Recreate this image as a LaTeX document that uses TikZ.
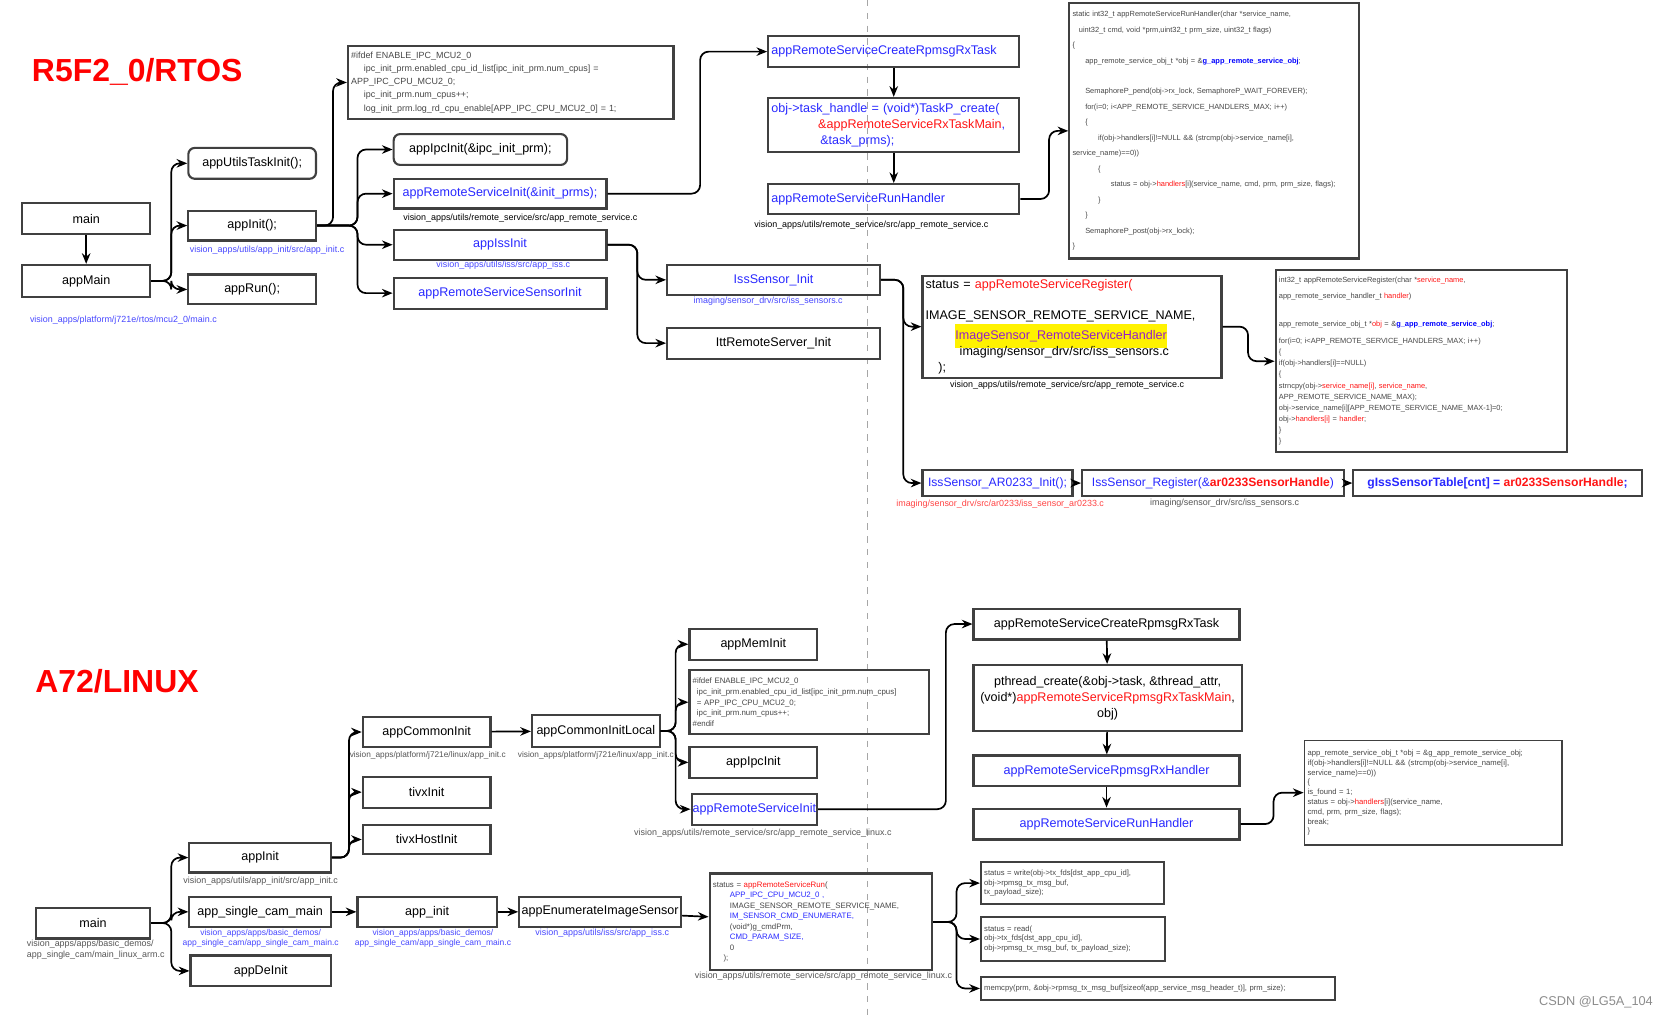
\documentclass[tikz,border=0pt]{standalone}
\usepackage{fontspec}
\setmainfont{Liberation Sans}
\usetikzlibrary{arrows.meta}
\definecolor{tb}{RGB}{40,40,255}
\definecolor{lb}{RGB}{70,70,255}
\definecolor{tr}{RGB}{255,20,20}
\definecolor{cg}{RGB}{70,70,70}
\definecolor{lg}{RGB}{85,85,85}
\definecolor{pp}{RGB}{150,30,200}
\newcommand\fs[2]{\fontsize{#1pt}{#2pt}\selectfont}
\newcommand\R[1]{\textcolor{tr}{#1}}
\newcommand\B[1]{\textcolor{tb}{#1}}
\newcommand\mybox[7][]{%
  \pgfmathsetmacro\bw{(#5-#3)*0.5}%
  \pgfmathsetmacro\bh{(#6-#4)*0.5}%
  \pgfmathsetmacro\tw{(#5-#3-6)*0.5}%
  \pgfmathsetmacro\cx{(#3+#5)/2}%
  \pgfmathsetmacro\cy{(#4+#6)/2}%
  \node[box,minimum width=\bw pt,minimum height=\bh pt,#1] (#2) at (\cx,\cy) {#7};}
\tikzset{
  box/.style={draw=black!75,line width=1pt,inner sep=0pt,font=\fs{5.9}{7.5}},
  lft/.style={text width=\tw pt,align=left},
  lbl/.style={inner sep=0pt,font=\fs{4.2}{5.2},align=center},
  arr/.style={-{Stealth[length=5pt,width=4pt]},line width=0.8pt,rounded corners=4pt},
  title/.style={text=red,font=\bfseries\fs{15}{15}}
}
\begin{document}
\begin{tikzpicture}[x=0.5pt,y=-0.5pt]
\useasboundingbox (0,0) rectangle (1563,955);
\draw[dashed,black!35,line width=0.5pt] (815,0) -- (815,955);
\node[title] (t1) at (129,68) {R5F2\_0/RTOS};
\node[title] (t2) at (110,640) {A72/LINUX};
% ---------------- top
\mybox{main}{21}{191}{141}{220}{main}
\mybox{appMain}{21}{249}{141}{279}{appMain}
\node[lbl,text=lb] (l1) at (116,301) {vision\_apps/platform/j721e/rtos/mcu2\_0/main.c};
\mybox[rounded corners=3pt]{uti}{177}{139}{297}{168}{appUtilsTaskInit();}
\mybox{appInit}{177}{198}{297}{226}{appInit();}
\node[lbl,text=lb] (l2) at (251,235) {vision\_apps/utils/app\_init/src/app\_init.c};
\mybox{appRun}{177}{258}{297}{286}{appRun();}
\mybox[lft,font=\fs{4.2}{6.2},text=cg]{ifd}{327}{43}{633}{112}{\#ifdef ENABLE\_IPC\_MCU2\_0\\
\hspace*{6pt}ipc\_init\_prm.enabled\_cpu\_id\_list[ipc\_init\_prm.num\_cpus] =\\
APP\_IPC\_CPU\_MCU2\_0;\\
\hspace*{6pt}ipc\_init\_prm.num\_cpus++;\\
\hspace*{6pt}log\_init\_prm.log\_rd\_cpu\_enable[APP\_IPC\_CPU\_MCU2\_0] = 1;}
\mybox[rounded corners=3pt]{ipc}{370}{126}{533}{155}{appIpcInit(\&ipc\_init\_prm);}
\mybox[text=tb]{rsi}{370}{168}{570}{196}{appRemoteServiceInit(\&init\_prms);}
\node[lbl] (l3) at (489,205) {vision\_apps/utils/remote\_service/src/app\_remote\_service.c};
\mybox[text=tb]{iss}{370}{216}{570}{244}{appIssInit}
\node[lbl,text=lb] (l4) at (473,249) {vision\_apps/utils/iss/src/app\_iss.c};
\mybox[text=tb]{rssi}{370}{261}{570}{290}{appRemoteServiceSensorInit}
\mybox[text=tb]{issi}{627}{249}{827}{277}{IssSensor\_Init}
\node[lbl,text=lb] (l5) at (722,283) {imaging/sensor\_drv/src/iss\_sensors.c};
\mybox{itt}{627}{308}{827}{337}{IttRemoteServer\_Init}
\mybox[text=tb,lft]{crt}{722}{34}{958}{63}{appRemoteServiceCreateRpmsgRxTask}
\mybox[text=tb,lft]{obj}{722}{92}{958}{143}{\mbox{obj->task\_handle = (void*)TaskP\_create(}\\\mbox{\hspace*{22pt}\R{\&appRemoteServiceRxTaskMain},}\\\mbox{\hspace*{23pt}\&task\_prms);}}
\mybox[text=tb,lft]{rh}{722}{173}{958}{201}{appRemoteServiceRunHandler}
\node[lbl] (l6) at (819,212) {vision\_apps/utils/remote\_service/src/app\_remote\_service.c};
\mybox[lft,text=cg,font=\fs{3.5}{7.3}]{big}{1005}{3}{1277}{243}{static int32\_t appRemoteServiceRunHandler(char *service\_name,\\
\hspace*{3pt}uint32\_t cmd, void *prm,uint32\_t prm\_size, uint32\_t flags)\\
\{\\
\hspace*{6pt}app\_remote\_service\_obj\_t *obj = \&\textcolor{blue}{\bfseries g\_app\_remote\_service\_obj};\\[7pt]
\hspace*{6pt}SemaphoreP\_pend(obj->rx\_lock, SemaphoreP\_WAIT\_FOREVER);\\
\hspace*{6pt}for(i=0; i<APP\_REMOTE\_SERVICE\_HANDLERS\_MAX; i++)\\
\hspace*{6pt}\{\\
\hspace*{12pt}if(obj->handlers[i]!=NULL \&\& (strcmp(obj->service\_name[i],\\
service\_name)==0))\\
\hspace*{12pt}\{\\
\mbox{\hspace*{18pt}status = obj->\R{handlers}[i](service\_name, cmd, prm, prm\_size, flags);}\\
\hspace*{12pt}\}\\
\hspace*{6pt}\}\\
\hspace*{6pt}SemaphoreP\_post(obj->rx\_lock);\\
\}}
\mybox[lft]{reg}{867}{259}{1148}{355}{status = \R{appRemoteServiceRegister(}\\[7pt]
IMAGE\_SENSOR\_REMOTE\_SERVICE\_NAME,\\
\hspace*{14pt}\colorbox{yellow}{\hspace*{-3pt}\textcolor{pp}{ImageSensor\_RemoteServiceHandler}\hspace*{-3pt}}\\[-2pt]
\hspace*{16pt}imaging/sensor\_drv/src/iss\_sensors.c\\
\hspace*{6pt});}
\node[lbl] (l7) at (1003,362) {vision\_apps/utils/remote\_service/src/app\_remote\_service.c};
\mybox[lft,text=cg,font=\fs{3.5}{5.2}]{regc}{1199}{254}{1473}{425}{int32\_t appRemoteServiceRegister(char *\R{service\_name},\\[2pt]
app\_remote\_service\_handler\_t \R{handler})\\[8pt]
app\_remote\_service\_obj\_t *\R{obj} = \&\textcolor{blue}{\bfseries g\_app\_remote\_service\_obj};\\[3pt]
for(i=0; i<APP\_REMOTE\_SERVICE\_HANDLERS\_MAX; i++)\\
\{\\
if(obj->handlers[i]==NULL)\\
\{\\
strncpy(obj->\R{service\_name[i]}, \R{service\_name},\\
APP\_REMOTE\_SERVICE\_NAME\_MAX);\\
obj->service\_name[i][APP\_REMOTE\_SERVICE\_NAME\_MAX-1]=0;\\
obj->\R{handlers[i]} = \R{handler};\\
\}\\
\}}
\mybox[text=tb,font=\fs{5.7}{7}]{ar}{867}{442}{1008}{466}{IssSensor\_AR0233\_Init();}
\node[lbl,text=tr!80] (l8) at (940,474) {imaging/sensor\_drv/src/ar0233/iss\_sensor\_ar0233.c};
\mybox[text=tb,font=\fs{5.7}{7}]{isr}{1017}{442}{1263}{466}{IssSensor\_Register(\&\R{\bfseries ar0233SensorHandle})}
\node[lbl,text=lg] (l9) at (1151,473) {imaging/sensor\_drv/src/iss\_sensors.c};
\mybox[text=tb,font=\bfseries\fs{5.7}{7}]{gt}{1272}{442}{1543}{466}{gIssSensorTable[cnt] = \R{ar0233SensorHandle};}
% top connectors
\draw[arr] (main) -- (appMain);
\draw[arr] (appMain.east) -- ++(19,0) |- (uti.west);
\draw[arr] (appMain.east) -- ++(19,0) |- (appInit.west);
\draw[arr] (appMain.east) -- ++(19,0) |- (appRun.west);
\draw[arr] (appInit.east) -- ++(15,0) |- (ifd.west);
\draw[arr] (appInit.east) -- ++(38,0) |- (ipc.west);
\draw[arr] (appInit.east) -- ++(38,0) |- (rsi.west);
\draw[arr] (appInit.east) -- ++(38,0) |- (iss.west);
\draw[arr] (appInit.east) -- ++(38,0) |- (rssi.west);
\draw[arr] (rsi.east) -- ++(87,0) |- (crt.west);
\draw[arr] (crt) -- (obj);
\draw[arr] (obj) -- (rh);
\draw[arr] (rh.east) -- ++(27,0) |- (big.west);
\draw[arr] (iss.east) -- ++(28,0) |- (issi.west);
\draw[arr] (iss.east) -- ++(28,0) |- (itt.west);
\draw[arr] (issi.east) -- ++(21,0) |- (reg.west);
\draw[arr] (issi.east) -- ++(21,0) |- (ar.west);
\draw[arr] (reg.east) -- ++(24,0) |- (regc.west);
\draw[arr] (ar) -- (isr);
\draw[arr] (isr) -- (gt);
% ---------------- bottom
\mybox{main2}{34}{853}{141}{882}{main}
\node[lbl,text=lg,align=left] (m1) at (90,893) {vision\_apps/apps/basic\_demos/\\app\_single\_cam/main\_linux\_arm.c};
\mybox{ai2}{178}{792}{311}{820}{appInit}
\node[lbl,text=lg] (m2) at (245,828) {vision\_apps/utils/app\_init/src/app\_init.c};
\mybox{ascm}{178}{843}{311}{871}{app\_single\_cam\_main}
\node[lbl,text=lb,font=\fs{4}{5}] (m3) at (245,882) {vision\_apps/apps/basic\_demos/\\app\_single\_cam/app\_single\_cam\_main.c};
\mybox{adi}{179}{898}{311}{927}{appDeInit}
\mybox{aci}{341}{674}{461}{702}{appCommonInit}
\node[lbl,text=lg,font=\fs{3.9}{5}] (m4) at (402,710) {vision\_apps/platform/j721e/linux/app\_init.c};
\mybox{tvx}{341}{730}{461}{759}{tivxInit}
\mybox{tvh}{341}{775}{461}{803}{tivxHostInit}
\mybox{ain}{336}{843}{467}{871}{app\_init}
\node[lbl,text=lb,font=\fs{4}{5}] (m5) at (407,882) {vision\_apps/apps/basic\_demos/\\app\_single\_cam/app\_single\_cam\_main.c};
\mybox{enm}{488}{843}{640}{871}{appEnumerateImageSensor}
\node[lbl,text=lb] (m6) at (566,877) {vision\_apps/utils/iss/src/app\_iss.c};
\mybox{acl}{500}{672}{620}{702}{appCommonInitLocal}
\node[lbl,text=lg,font=\fs{3.9}{5}] (m7) at (560,710) {vision\_apps/platform/j721e/linux/app\_init.c};
\mybox{mem}{648}{591}{768}{620}{appMemInit}
\mybox[lft,text=cg,font=\fs{3.7}{5.1}]{ifd2}{648}{630}{873}{690}{\#ifdef ENABLE\_IPC\_MCU2\_0\\
\hspace*{2pt}ipc\_init\_prm.enabled\_cpu\_id\_list[ipc\_init\_prm.num\_cpus]\\
\hspace*{2pt}= APP\_IPC\_CPU\_MCU2\_0;\\
\hspace*{2pt}ipc\_init\_prm.num\_cpus++;\\
\#endif}
\mybox{ipc2}{648}{702}{768}{731}{appIpcInit}
\mybox[text=tb]{rsi2}{650}{746}{768}{775}{appRemoteServiceInit}
\node[lbl,text=lg] (m8) at (717,783) {vision\_apps/utils/remote\_service/src/app\_remote\_service\_linux.c};
\mybox{crt2}{915}{572}{1165}{601}{appRemoteServiceCreateRpmsgRxTask}
\mybox[align=center]{pth}{915}{625}{1167}{687}{pthread\_create(\&obj->task, \&thread\_attr,\\(void*)\R{appRemoteServiceRpmsgRxTaskMain},\\obj)}
\mybox[text=tb]{rxh}{915}{710}{1165}{739}{appRemoteServiceRpmsgRxHandler}
\mybox[text=tb]{rh2}{915}{760}{1165}{789}{appRemoteServiceRunHandler}
\mybox[lft,text=cg,font=\fs{3.6}{4.6},line width=0.8pt]{cd2}{1226}{696}{1468}{794}{app\_remote\_service\_obj\_t *obj = \&g\_app\_remote\_service\_obj;\\
if(obj->handlers[i]!=NULL \&\& (strcmp(obj->service\_name[i],\\
service\_name)==0))\\
\{\\
is\_found = 1;\\
status = obj->\R{handlers}[i](service\_name,\\
cmd, prm, prm\_size, flags);\\
break;\\
\}}
\mybox[lft,text=cg,font=\fs{3.7}{4.9}]{run}{667}{821}{876}{912}{status = \R{appRemoteServiceRun}(\\
\hspace*{8pt}\B{APP\_IPC\_CPU\_MCU2\_0 ,}\\
\hspace*{8pt}IMAGE\_SENSOR\_REMOTE\_SERVICE\_NAME,\\
\hspace*{8pt}\B{IM\_SENSOR\_CMD\_ENUMERATE,}\\
\hspace*{8pt}(void*)g\_cmdPrm,\\
\hspace*{8pt}\B{CMD\_PARAM\_SIZE,}\\
\hspace*{8pt}0\\
\hspace*{5pt});}
\node[lbl,text=lg] (m9) at (774,917) {vision\_apps/utils/remote\_service/src/app\_remote\_service\_linux.c};
\mybox[lft,text=cg,font=\fs{3.6}{4.6}]{wr}{922}{810}{1094}{850}{status = write(obj->tx\_fds[dst\_app\_cpu\_id],\\obj->rpmsg\_tx\_msg\_buf,\\tx\_payload\_size);}
\mybox[lft,text=cg,font=\fs{3.6}{4.6}]{rd}{922}{862}{1095}{903}{status = read(\\obj->tx\_fds[dst\_app\_cpu\_id],\\obj->rpmsg\_tx\_msg\_buf, tx\_payload\_size);}
\mybox[lft,text=cg,font=\fs{3.6}{4.6}]{mc}{922}{918}{1255}{940}{\mbox{memcpy(prm, \&obj->rpmsg\_tx\_msg\_buf[sizeof(app\_service\_msg\_header\_t)], prm\_size);}}
\node[inner sep=0pt,text=black!45,font=\fs{6}{7}] (wm) at (1500,942) {CSDN @LG5A\_104};
% bottom connectors
\draw[arr] (main2.east) -- ++(19,0) |- (ai2.west);
\draw[arr] (main2.east) -- ++(19,0) |- (ascm.west);
\draw[arr] (main2.east) -- ++(19,0) |- (adi.west);
\draw[arr] (ai2.east) -- ++(16,0) |- (aci.west);
\draw[arr] (ai2.east) -- ++(16,0) |- (tvx.west);
\draw[arr] (ai2.east) -- ++(16,0) |- (tvh.west);
\draw[arr] (aci) -- (acl);
\draw[arr] (acl.east) -- ++(14,0) |- (mem.west);
\draw[arr] (acl.east) -- ++(14,0) |- (ifd2.west);
\draw[arr] (acl.east) -- ++(14,0) |- (ipc2.west);
\draw[arr] (acl.east) -- ++(14,0) |- (rsi2.west);
\draw[arr] (rsi2.east) -- ++(120,0) |- (crt2.west);
\draw[arr] (crt2) -- (pth);
\draw[arr] (pth) -- (rxh);
\draw[arr] (rxh) -- (rh2);
\draw[arr] (rh2.east) -- ++(31,0) |- (cd2.west);
\draw[arr] (ascm) -- (ain);
\draw[arr] (ain) -- (enm);
\draw[arr] (enm) -- (run);
\draw[arr] (run.east) -- ++(22,0) |- (wr.west);
\draw[arr] (run.east) -- ++(22,0) |- (rd.west);
\draw[arr] (run.east) -- ++(22,0) |- (mc.west);
\end{tikzpicture}
\end{document}
